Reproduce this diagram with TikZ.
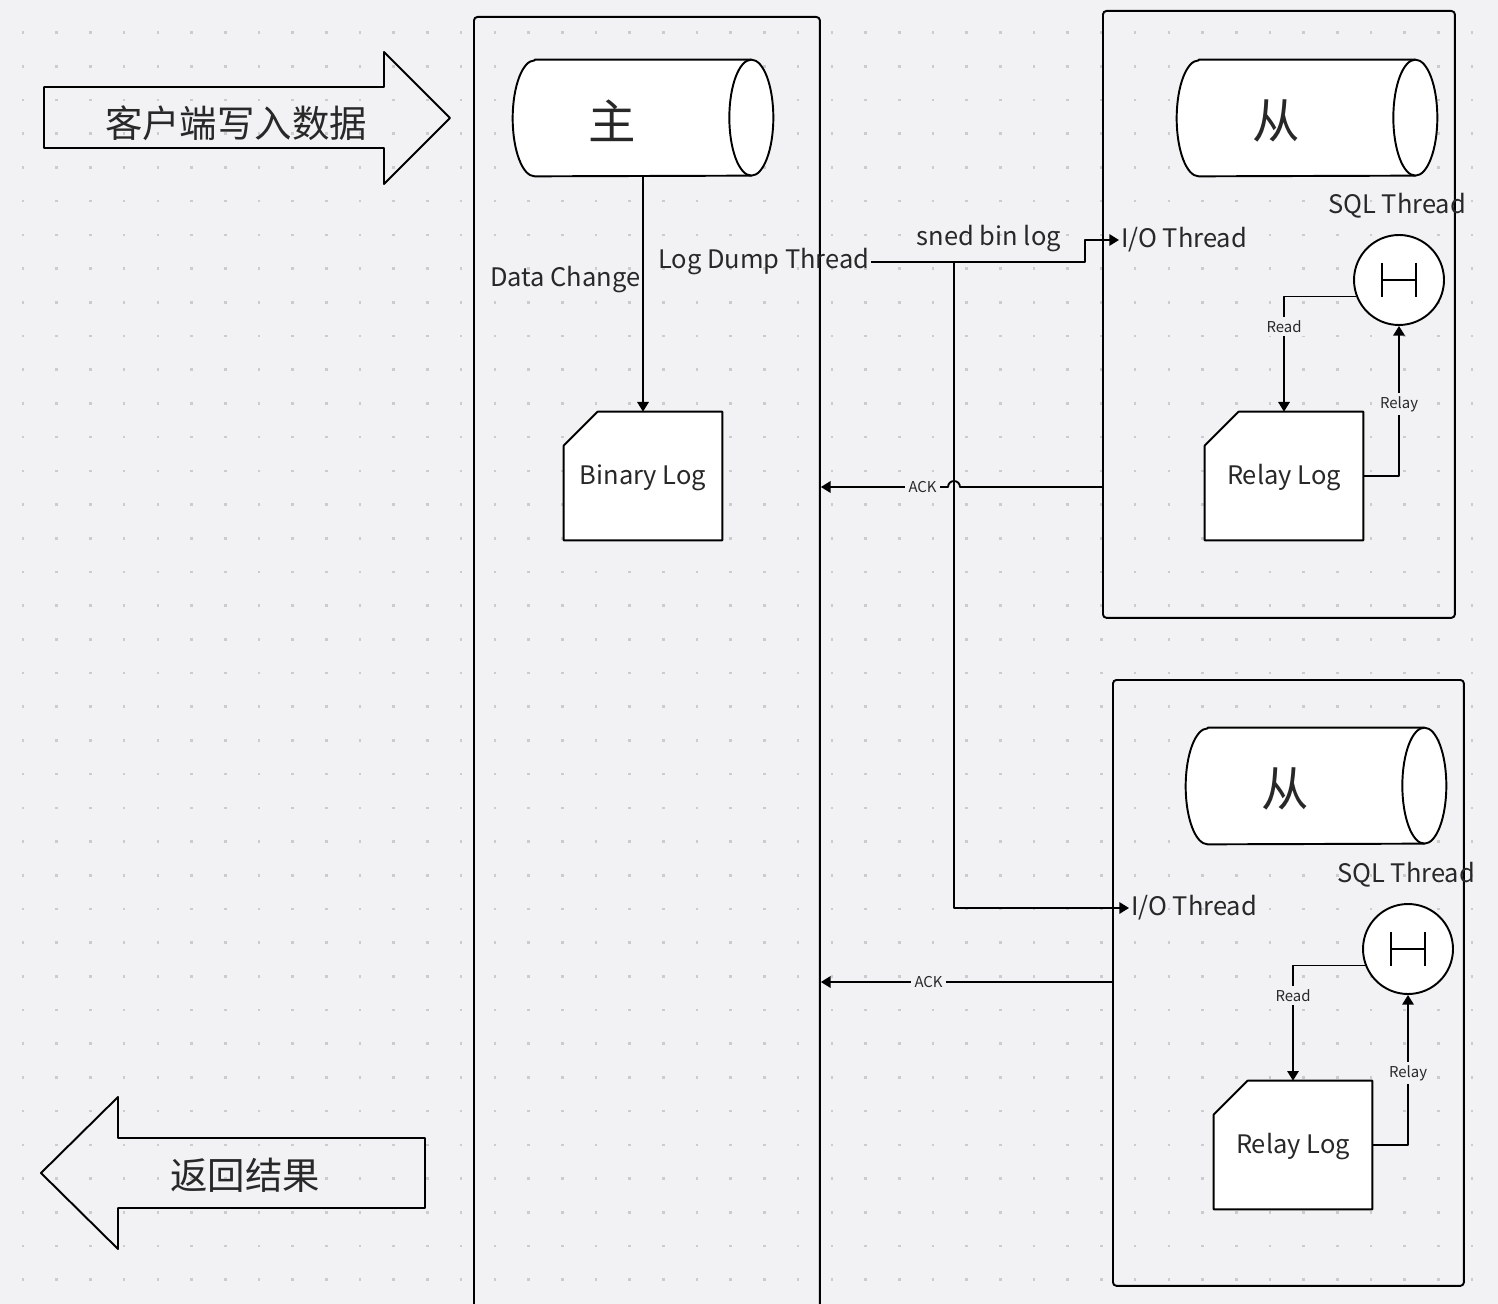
\documentclass[tikz,border=0pt]{standalone}
\usepackage{fontspec}
\setmainfont{Noto Sans CJK SC}
\usetikzlibrary{arrows.meta,calc}
\definecolor{bgc}{RGB}{242,242,244}
\definecolor{dotc}{RGB}{204,204,207}
\definecolor{txt}{RGB}{40,40,40}

\begin{document}
\begin{tikzpicture}[x=0.02cm, y=-0.02cm, line join=round,
  lane/.style={draw, line width=1.1pt, rounded corners=2pt, inner sep=0},
  cylbox/.style={rectangle, inner sep=0, minimum width=5.2cm, minimum height=2.32cm},
  cylline/.style={draw, fill=white, line width=1.1pt},
  cyltxt/.style={font=\fontsize{27}{27}\selectfont, text=txt},
  logbox/.style={rectangle, inner sep=0, minimum width=3.16cm, minimum height=2.56cm,
    font=\fontsize{14.5}{14.5}\selectfont, text=txt},
  logline/.style={draw, fill=white, line width=1.1pt},
  sqlnode/.style={circle, draw, fill=white, line width=1.1pt, minimum size=1.8cm, inner sep=0},
  lbl/.style={font=\fontsize{14.5}{14.5}\selectfont, text=txt, inner sep=1pt},
  small/.style={font=\fontsize{8.5}{8.5}\selectfont, text=txt, fill=bgc, inner sep=2pt},
  conn/.style={line width=1.05pt, -{Triangle[length=5.5pt,width=6.5pt]}},
  bigarrow/.style={draw, line width=1.1pt},
  bigtxt/.style={font=\fontsize{21.3}{21.3}\selectfont, text=txt}]

% background and dots
\fill[bgc] (0,0) rectangle (1498,1304);
\clip (0,0) rectangle (1498,1304);
\foreach \i in {0,...,43}
  \foreach \j in {0,...,37}
    \fill[dotc] (23+33.7*\i,32.7+33.7*\j) +(-1.3,-1.3) rectangle +(1.3,1.3);

% client arrows
\draw[bigarrow] (44,87) -- (384,87) -- (384,52) -- (450,118) -- (384,184) -- (384,148) -- (44,148) -- cycle;
\node[bigtxt] (write) at (236,123) {客户端写入数据};
\draw[bigarrow] (41,1173) -- (118,1097) -- (118,1138) -- (425,1138) -- (425,1208) -- (118,1208) -- (118,1249) -- cycle;
\node[bigtxt] (back) at (245,1175) {返回结果};

% lanes
\node[lane, minimum width=6.92cm, minimum height=26.6cm, anchor=north west] (masterlane) at (473,16) {};
\node[lane, minimum width=7.04cm, minimum height=12.14cm, anchor=north west] (slave1) at (1102,10) {};
\node[lane, minimum width=7.02cm, minimum height=12.12cm, anchor=north west] (slave2) at (1112,679) {};

% databases
\node[cylbox] (master) at (643,118) {};
\node[cylbox] (s1) at (1307,118) {};
\node[cylbox] (s2) at (1316,786) {};
\foreach \db/\t in {master/主, s1/从, s2/从}{
  \path[cylline] ([xshift=0.44cm]\db.north west) -- ([xshift=-0.44cm]\db.north east)
    arc[start angle=90, end angle=-90, x radius=0.44cm, y radius=1.16cm]
    -- ([xshift=0.44cm]\db.south west)
    arc[start angle=270, end angle=90, x radius=0.44cm, y radius=1.16cm] -- cycle;
  \draw[line width=1.1pt] ([xshift=-0.44cm]\db.north east)
    arc[start angle=90, end angle=270, x radius=0.44cm, y radius=1.16cm];
  \node[cyltxt] at ([xshift=-0.62cm,yshift=-0.06cm]\db.center) {\t};
}

% log files
\node[logbox] (binlog) at (643,476) {};
\node[logbox] (rl1) at (1284,476) {};
\node[logbox] (rl2) at (1293,1145) {};
\foreach \lg/\t in {binlog/Binary Log, rl1/Relay Log, rl2/Relay Log}{
  \path[logline] ([yshift=-0.68cm]\lg.north west) -- ([xshift=0.68cm]\lg.north west)
    -- (\lg.north east) -- (\lg.south east) -- (\lg.south west) -- cycle;
  \node[lbl] at ([yshift=-0.04cm]\lg.center) {\t};
}

% master
\draw[conn] (master.south) -- node[lbl, pos=0.43, left, yshift=-0.04cm]{Data Change} (binlog.north);
\node[lbl, anchor=west] (dump) at (656,262) {Log Dump Thread};

% slave 1
\node[lbl, anchor=west] (io1) at (1119,240) {I/O Thread};
\node[sqlnode] (sql1) at (1399,280) {};
\node[lbl] (sqlt1) at (1397,206) {SQL Thread};
\draw[line width=1pt] (sql1.center) +(-17,-17) -- +(-17,17) +(17,-17) -- +(17,17) +(-17,0) -- +(17,0);
\draw[conn] (sql1.201) -| node[small, pos=0.63]{Read} (rl1.north);
\draw[conn] (rl1.east) -| node[small, pos=0.74]{Relay} (sql1.south);

% slave 2
\node[lbl, anchor=west] (io2) at (1129,908) {I/O Thread};
\node[sqlnode] (sql2) at (1408,949) {};
\node[lbl] (sqlt2) at (1406,875) {SQL Thread};
\draw[line width=1pt] (sql2.center) +(-17,-17) -- +(-17,17) +(17,-17) -- +(17,17) +(-17,0) -- +(17,0);
\draw[conn] (sql2.201) -| node[small, pos=0.63]{Read} (rl2.north);
\draw[conn] (rl2.east) -| node[small, pos=0.74]{Relay} (sql2.south);

% replication
\coordinate (split) at (954,262);
\draw[conn] (dump.east) -- node[lbl, above, pos=0.55, inner sep=5pt]{sned bin log} (1085,262) |- (io1.west);
\draw[conn] (split) |- (io2.west);
\draw[conn] (slave1.west |- 0,487) -- (960,487) arc[start angle=0, end angle=180, radius=0.12cm]
  -- node[small, pos=0.2]{ACK} (masterlane.east |- 0,487);
\draw[conn] (slave2.west |- 0,982) -- node[small, pos=0.63]{ACK} (masterlane.east |- 0,982);
\end{tikzpicture}
\end{document}
